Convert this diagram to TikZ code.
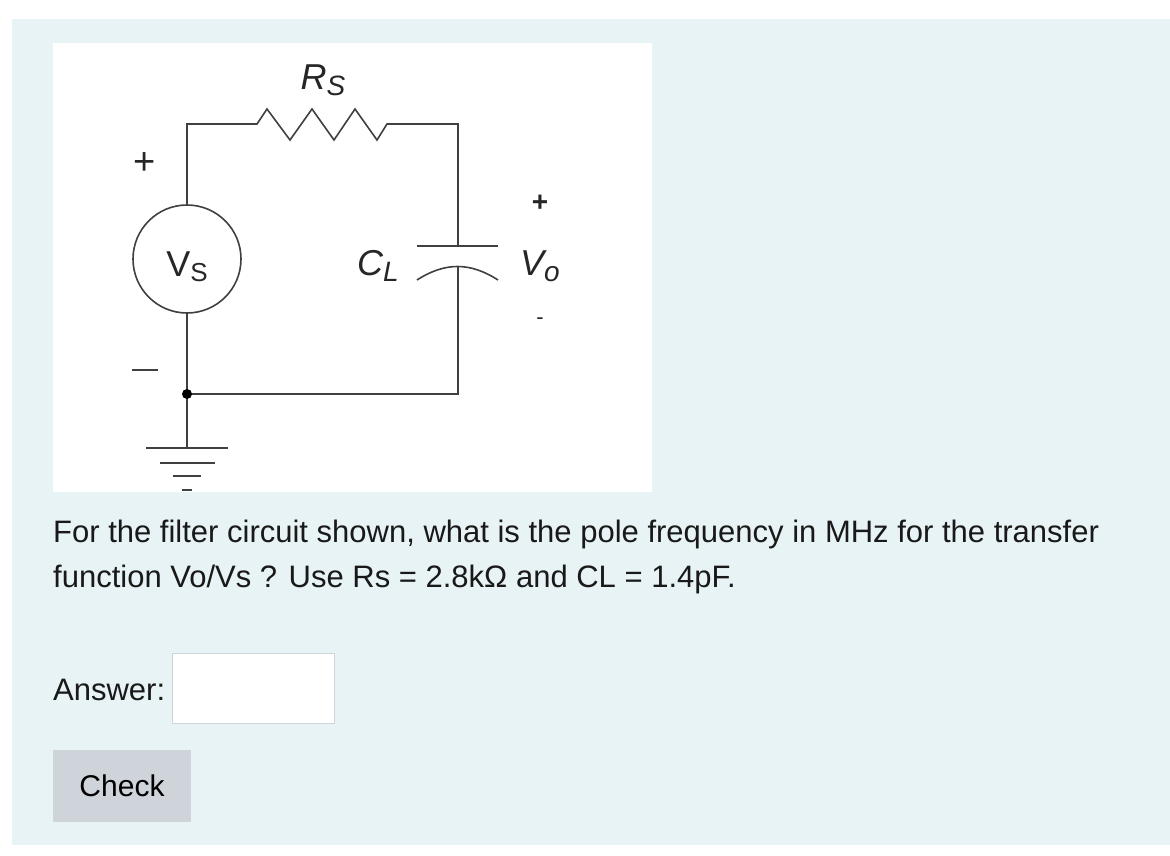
\documentclass[tikz,border=0pt]{standalone}
\usepackage{fontspec}
\setmainfont{Liberation Sans}
\begin{document}
\begin{tikzpicture}[x=1pt,y=-1pt,
  wire/.style={draw=black!75,line width=1.6pt},
  lbl/.style={inner sep=0pt,font=\fontsize{36}{36}\selectfont,text=black!85},
  txt/.style={inner sep=0pt,anchor=base west,font=\fontsize{31}{36}\selectfont,text=black!90}]
\useasboundingbox (0,0) rectangle (1170,856);
\fill[white] (0,0) rectangle (1170,856);
\fill[fill={rgb,255:red,231;green,243;blue,245}] (12,19) rectangle (1170,845);
\fill[white] (53,43) rectangle (652,492);
% circuit
\node[circle,draw=black!75,line width=1.6pt,minimum size=108pt,inner sep=0pt] (vs) at (187,259) {};
\node[lbl] (vslbl) at (187,267) {V\raisebox{-0.25ex}{\fontsize{26}{26}\selectfont S}};
\coordinate (tl) at (187,124);
\coordinate (tr) at (458,124);
\coordinate (bl) at (187,394);
\coordinate (br) at (458,394);
\coordinate (gnd) at (187,448);
\draw[wire] (vs.north) -- (tl) -- (257,124) -- (267,109) -- (290,140) -- (312,109) -- (334,140) -- (355,109) -- (377,140) -- (387,124) -- (tr) -- (458,246);
\draw[wire] (417,246) -- (498,246);
\draw[wire] (417,280) .. controls (445,262) and (470,262) .. (498,280);
\draw[wire] (458,267) -- (br) -- (bl) -- (vs.south);
\draw[wire] (bl) -- (gnd);
\fill[black] (bl) circle (5);
\draw[wire] (146,448) -- (228,448);
\draw[wire] (160,463) -- (215,463);
\draw[wire] (173,476) -- (201,476);
\draw[wire] (182,490) -- (192,490);
\node[lbl] (rs) at (323,80) {\itshape R\raisebox{-0.3ex}{\fontsize{28}{28}\selectfont S}};
\node[lbl] (cl) at (378,266) {\itshape C\raisebox{-0.3ex}{\fontsize{28}{28}\selectfont L}};
\node[lbl] (vo) at (540,266) {\itshape V\raisebox{-0.3ex}{\fontsize{28}{28}\selectfont o}};
\node[lbl] (p1) at (145,164) {\fontsize{38}{38}\selectfont +};
\draw[draw=black!75,line width=1.6pt] (132,370) -- (158,370);
\node[lbl] (p2) at (540,203) {\bfseries\fontsize{28}{28}\selectfont +};
\node[lbl] (m2) at (540,321) {\fontsize{22}{22}\selectfont -};
% text
\node[txt] (q1) at (53,542) {For the filter circuit shown, what is the pole frequency in MHz for the transfer};
\node[txt] (q2) at (53,587) {function Vo/Vs ? Use Rs = 2.8kΩ and CL = 1.4pF.};
\node[txt] (ans) at (53,700) {Answer:};
\node[draw={rgb,255:red,206;green,212;blue,218},fill=white,line width=1pt,minimum width=162pt,minimum height=70pt,inner sep=0pt] (box) at (253,688) {};
\node[fill={rgb,255:red,206;green,212;blue,218},minimum width=138pt,minimum height=72pt,inner sep=0pt,font=\fontsize{30}{36}\selectfont] (chk) at (122,786) {Check};
\end{tikzpicture}
\end{document}
